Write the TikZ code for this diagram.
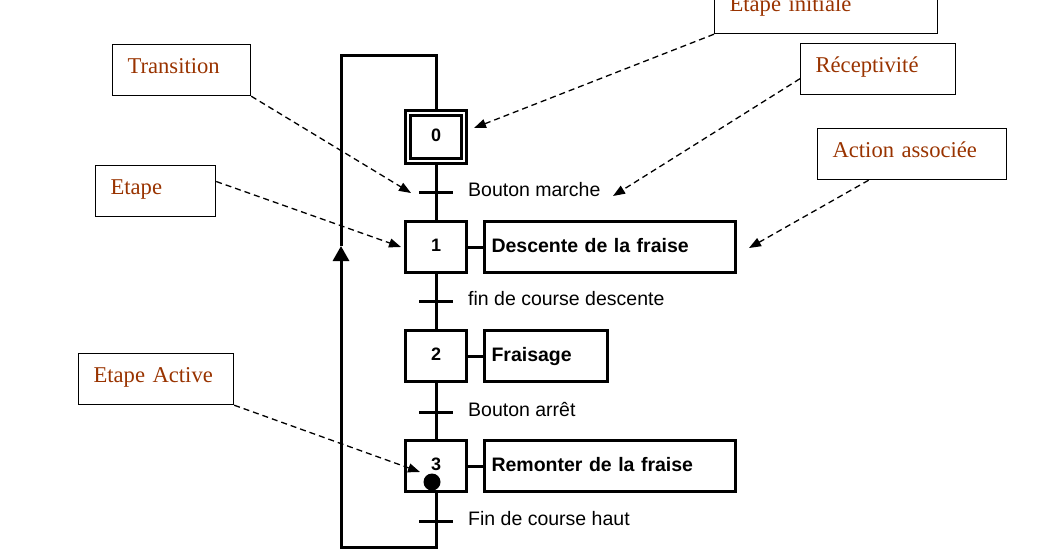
\documentclass[tikz,border=0pt]{standalone}
\usepackage{fontspec}
\setmainfont{Liberation Serif}
\setsansfont{Liberation Sans}
\usetikzlibrary{positioning,arrows.meta}
\definecolor{brique}{RGB}{153,51,0}
\tikzset{>=Triangle}
\tikzset{
  etape/.style={draw,line width=3pt,minimum width=61pt,minimum height=51pt,
    inner sep=0pt,text height=13pt,text depth=5pt,
    font=\sffamily\bfseries\fontsize{18}{20}\selectfont},
  initiale/.style={etape,double,double distance=2pt,minimum width=56pt,minimum height=48pt},
  action/.style={draw,line width=3pt,minimum height=51pt,inner xsep=7pt,inner ysep=0pt,
    text width=#1,align=left,text height=14pt,text depth=4pt,
    font=\sffamily\bfseries\fontsize{19.5}{22}\selectfont},
  recep/.style={anchor=base west,inner sep=0pt,font=\sffamily\fontsize{19.5}{22}\selectfont},
  liaison/.style={line width=3pt},
  barre/.style={line width=3pt},
  jeton/.style={circle,fill,minimum size=17pt,inner sep=0pt},
  bulle/.style={draw,line width=1.2pt,anchor=north west,text=brique,inner xsep=15pt,
    inner ysep=6pt,text width=#1,align=left,text height=23pt,text depth=16pt,
    font=\rmfamily\fontsize{22.6}{26}\selectfont},
  renvoi/.style={dash pattern=on 6pt off 4pt,line width=1.3pt,-{Triangle[length=12pt,width=9pt]}}
}

\begin{document}
\begin{tikzpicture}[x=1pt,y=-1pt]
\useasboundingbox (0,0) rectangle (1052,552);
\clip (0,0) rectangle (1052,552);

% etapes
\node[initiale] (E0) at (436,137) {0};
\node[etape] (E1) at (436,247) {1};
\node[etape] (E2) at (436,356) {2};
\node[etape] (E3) at (436,466) {3};
\node[jeton] (J3) at (432,482) {};

% actions
\node[action=237pt,right=15pt of E1] (A1) {Descente de la fraise};
\node[action=109pt,right=15pt of E2] (A2) {Fraisage};
\node[action=237pt,right=15pt of E3] (A3) {Remonter de la fraise};

% transitions
\coordinate (T1) at (436,192);
\coordinate (T2) at (436,301);
\coordinate (T3) at (436,412);
\coordinate (T4) at (436,521);
\foreach \tr/\texte in {T1/Bouton marche,T2/fin de course descente,T3/Bouton arrêt,T4/Fin de course haut}
  {\draw[barre] ([xshift=-17pt]\tr) -- ([xshift=17pt]\tr);
   \node[recep] (R\tr) at ([xshift=32pt,yshift=-4pt]\tr) {\texte};}

% liaisons
\draw[liaison]
  (E0) -- (E1) (E1) -- (E2) (E2) -- (E3)
  (E1) -- (A1) (E2) -- (A2) (E3) -- (A3);

% retour
\coordinate (bd) at (436,547);
\coordinate (bg) at (341,547);
\coordinate (fl) at (341,246);
\coordinate (hg) at (341,55);
\coordinate (hd) at (436,55);
\draw[liaison,-{Triangle[length=15pt,width=16pt]}] (E3) -- (bd) -- (bg) -- (fl);
\draw[liaison] (fl) -- (hg) -- (hd) -- (E0);

% bulles
\node[bulle=193pt] (bInit) at (714,-18) {Etape initiale};
\node[bulle=125pt] (bRecep) at (800,43) {Réceptivité};
\node[bulle=159pt] (bAction) at (817,128) {Action associée};
\node[bulle=108pt] (bTrans) at (112,44) {Transition};
\node[bulle=90pt] (bEtape) at (95,165) {Etape};
\node[bulle=125pt] (bActive) at (78,353) {Etape Active};

\coordinate (pE0) at (474,128);
\coordinate (pR1) at (613,196);
\coordinate (pA1) at (749,248);
\coordinate (pT1) at (411,193);
\coordinate (pE1) at (401,247);
\coordinate (pJ3) at (420,472);

\draw[renvoi] (bInit.south west) -- (pE0);
\draw[renvoi] (bRecep.187) -- (pR1);
\draw[renvoi] (bAction.211) -- (pA1);
\draw[renvoi] (bTrans.south east) -- (pT1);
\draw[renvoi] (bEtape.9) -- (pE1);
\draw[renvoi] (bActive.south east) -- (pJ3);
\end{tikzpicture}
\end{document}
